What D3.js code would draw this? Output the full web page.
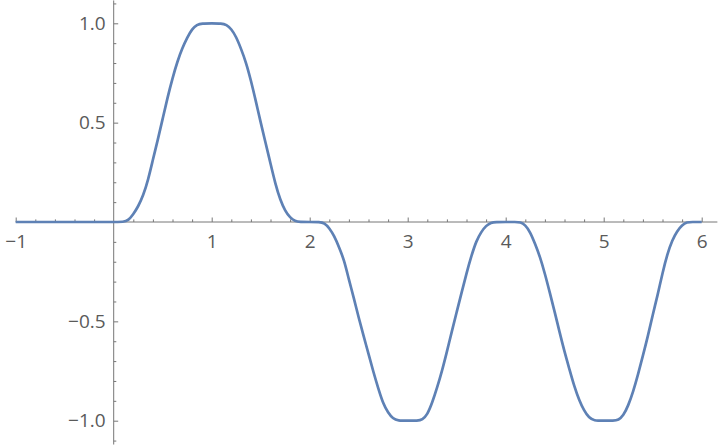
<!DOCTYPE html>
<html>
<head>
<meta charset="utf-8">
<script src="https://cdn.jsdelivr.net/npm/d3@7"></script>
<style>
  body { margin: 0; background: #fff; }
  svg { display: block; }
  .tick text { font-family: "Open Sans", "Liberation Sans", sans-serif; font-size: 19px; fill: #5a5a5a; }
</style>
</head>
<body>
<div id="chart"></div>
<script>
const width = 720;
const height = 446;

// curve, x then y
const curveX = [-1, -0.5, 0,
    0.1, 0.15, 0.2, 0.25, 0.3, 0.35, 0.4, 0.45, 0.5, 0.55, 0.6, 0.65, 0.7, 0.75, 0.8, 0.85, 0.9,
    1.0,
    1.1, 1.15, 1.2, 1.25, 1.3, 1.35, 1.4, 1.45, 1.5, 1.55, 1.6, 1.65, 1.7, 1.75, 1.8, 1.85, 1.9,
    2.0,
    2.1, 2.15, 2.2, 2.25, 2.3, 2.35, 2.4, 2.45, 2.5, 2.55, 2.6, 2.65, 2.7, 2.75, 2.8, 2.85, 2.9,
    3.0,
    3.1, 3.15, 3.2, 3.25, 3.3, 3.35, 3.4, 3.45, 3.5, 3.55, 3.6, 3.65, 3.7, 3.75, 3.8, 3.85, 3.9,
    4.0,
    4.1, 4.15, 4.2, 4.25, 4.3, 4.35, 4.4, 4.45, 4.5, 4.55, 4.6, 4.65, 4.7, 4.75, 4.8, 4.85, 4.9,
    5.0,
    5.1, 5.15, 5.2, 5.25, 5.3, 5.35, 5.4, 5.45, 5.5, 5.55, 5.6, 5.65, 5.7, 5.75, 5.8, 5.85, 5.9,
    6.0];

const curveY = [0, 0, 0,
    0, 0.008, 0.039, 0.078, 0.132, 0.209, 0.314, 0.413, 0.52, 0.628, 0.724, 0.808, 0.875, 0.928, 0.972, 0.993, 1,
    1,
    1, 0.993, 0.972, 0.932, 0.871, 0.804, 0.713, 0.609, 0.5, 0.398, 0.294, 0.191, 0.11, 0.055, 0.022, 0.004, 0,
    0,
    0, -0.005, -0.03, -0.07, -0.127, -0.19, -0.29, -0.382, -0.482, -0.573, -0.664, -0.755, -0.838, -0.915, -0.96, -0.99, -1,
    -1,
    -1, -0.995, -0.97, -0.91, -0.834, -0.75, -0.653, -0.551, -0.453, -0.355, -0.258, -0.17, -0.095, -0.05, -0.018, -0.003, 0,
    0,
    0, 0, -0.015, -0.05, -0.11, -0.175, -0.26, -0.355, -0.453, -0.555, -0.653, -0.74, -0.828, -0.897, -0.95, -0.985, -1,
    -1,
    -1, -0.997, -0.975, -0.925, -0.855, -0.768, -0.673, -0.577, -0.467, -0.369, -0.256, -0.16, -0.09, -0.045, -0.015, 0, 0,
    0];

const xTickValues = [-1, 1, 2, 3, 4, 5, 6];
const xTickLabels = ["\u22121", "1", "2", "3", "4", "5", "6"];
const yTickValues = [-1, -0.5, 0.5, 1];
const yTickLabels = ["\u22121.0", "\u22120.5", "0.5", "1.0"];
const xAxisExtent = [-1, 6.16];
const yAxisExtent = [-1.12, 1.115];

const points = curveX.map((x, i) => ({ x: x, y: curveY[i] }));

const x = d3.scaleLinear()
    .domain([-1, 6])
    .range([15.7, 701.7]);

const y = d3.scaleLinear()
    .domain([-1, 1])
    .range([420.7, 23.3]);

const svg = d3.select("#chart").append("svg")
    .attr("width", width)
    .attr("height", height);

// minor ticks
const xMinor = d3.range(-1, 6.01, 0.2).filter(v => Math.abs(v - Math.round(v)) > 1e-6);
const yMinor = d3.range(-1.1, 1.11, 0.1).filter(v => Math.abs(v * 2 - Math.round(v * 2)) > 1e-6);

svg.append("g")
    .attr("transform", `translate(0, ${y(0)})`)
    .call(d3.axisBottom(x).tickValues(xMinor).tickSize(-2.6).tickFormat(""))
    .call(g => g.select(".domain").remove())
    .selectAll("line").attr("stroke", "#777");

svg.append("g")
    .attr("transform", `translate(${x(0)}, 0)`)
    .call(d3.axisLeft(y).tickValues(yMinor).tickSize(-2.6).tickFormat(""))
    .call(g => g.select(".domain").remove())
    .selectAll("line").attr("stroke", "#777");

// major ticks with labels
const xAxis = svg.append("g")
    .attr("transform", `translate(0, ${y(0)})`)
    .call(d3.axisBottom(x)
        .tickValues(xTickValues)
        .tickSize(-4.5)
        .tickPadding(12.5)
        .tickFormat((d, i) => xTickLabels[i]))
    .call(g => g.select(".domain").remove());
xAxis.selectAll("line").attr("stroke", "#777");
xAxis.selectAll("text").attr("fill", "#5a5a5a");

const yAxis = svg.append("g")
    .attr("transform", `translate(${x(0)}, 0)`)
    .call(d3.axisLeft(y)
        .tickValues(yTickValues)
        .tickSize(-4.5)
        .tickPadding(8)
        .tickFormat((d, i) => yTickLabels[i]))
    .call(g => g.select(".domain").remove());
yAxis.selectAll("line").attr("stroke", "#777");
yAxis.selectAll("text").attr("fill", "#5a5a5a");

// axis lines
svg.append("line")
    .attr("x1", x(xAxisExtent[0]))
    .attr("x2", x(xAxisExtent[1]))
    .attr("y1", y(0))
    .attr("y2", y(0))
    .attr("stroke", "#777")
    .attr("stroke-width", 1);

svg.append("line")
    .attr("x1", x(0))
    .attr("x2", x(0))
    .attr("y1", y(yAxisExtent[0]))
    .attr("y2", y(yAxisExtent[1]))
    .attr("stroke", "#777")
    .attr("stroke-width", 1);

const line = d3.line()
    .x(d => x(d.x))
    .y(d => y(d.y))
    .curve(d3.curveBasis);

svg.append("path")
    .datum(points)
    .attr("fill", "none")
    .attr("stroke", "#5e81b5")
    .attr("stroke-width", 2.7)
    .attr("stroke-linejoin", "round")
    .attr("d", line);
</script>
</body>
</html>
